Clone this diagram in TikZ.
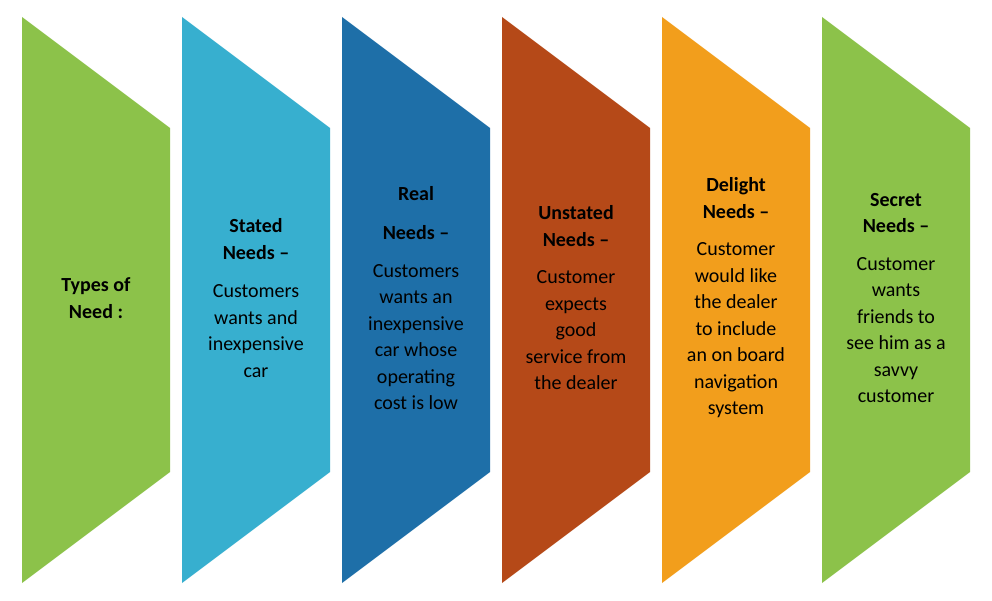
\documentclass[tikz,border=0pt]{standalone}
\usepackage{fontspec}
\setmainfont{Carlito}
\definecolor{cgreen}{HTML}{8CC24A}
\definecolor{ccyan}{HTML}{37AFCF}
\definecolor{cblue}{HTML}{1E6FA8}
\definecolor{crust}{HTML}{B54918}
\definecolor{corange}{HTML}{F29E1C}
\begin{document}
\begin{tikzpicture}[x=1pt,y=-1pt,
  lbl/.style={align=center,font=\fontsize{20}{26.5}\selectfont,text=black,inner sep=0pt}]
\useasboundingbox[fill=white] (0,0) rectangle (992,601);
\foreach \x/\c/\n in {22/cgreen/s1,182/ccyan/s2,342/cblue/s3,502/crust/s4,662/corange/s5,822/cgreen/s6}{
  \fill[\c] (\x,17) -- (\x+148,128) -- (\x+148,472) -- (\x,583) -- cycle;
  \coordinate (\n) at (\x+74,298);
}
\node[lbl] (t1) at (s1) {\textbf{Types of}\\\textbf{Need :}};
\node[lbl] (t2) at (s2) {\textbf{Stated}\\\textbf{Needs –}\\[12pt]Customers\\wants and\\inexpensive\\car};
\node[lbl] (t3) at (s3) {\textbf{Real}\\[13pt]\textbf{Needs –}\\[11pt]Customers\\wants an\\inexpensive\\car whose\\operating\\cost is low};
\node[lbl] (t4) at (s4) {\textbf{Unstated}\\\textbf{Needs –}\\[11pt]Customer\\expects\\good\\service from\\the dealer};
\node[lbl] (t5) at (s5) {\textbf{Delight}\\\textbf{Needs –}\\[11pt]Customer\\would like\\the dealer\\to include\\an on board\\navigation\\system};
\node[lbl] (t6) at (s6) {\textbf{Secret}\\\textbf{Needs –}\\[11pt]Customer\\wants\\friends to\\see him as a\\savvy\\customer};
\end{tikzpicture}
\end{document}
